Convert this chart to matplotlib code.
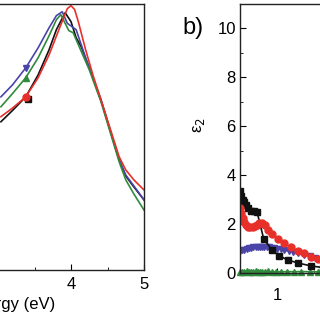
import matplotlib

matplotlib.use("Agg")
import matplotlib.pyplot as plt
from matplotlib.ticker import MultipleLocator

plt.rcParams["font.family"] = ["Liberation Sans", "DejaVu Sans"]

# panel a (left, only its right part is visible)
a_black_x = [3.04, 3.2, 3.38, 3.55, 3.7, 3.8, 3.92, 4.0, 4.07, 4.14, 4.25, 4.41, 4.66, 4.75, 4.86, 5.0]
a_black_y = [6.13, 6.6, 7.16, 8.07, 9.11, 9.94, 10.64, 10.27, 9.61, 9.23, 8.36, 7.04, 4.55, 3.89, 3.44, 2.90]
a_blue_x = [3.04, 3.2, 3.38, 3.55, 3.7, 3.8, 3.88, 3.95, 4.07, 4.2, 4.41, 4.66, 4.75, 4.86, 5.0]
a_blue_y = [7.16, 7.66, 8.36, 9.19, 10.02, 10.52, 10.68, 10.2, 9.94, 8.78, 7.04, 4.55, 3.93, 3.48, 2.90]
a_green_x = [3.04, 3.2, 3.38, 3.55, 3.7, 3.8, 3.86, 3.93, 3.97, 4.03, 4.1, 4.25, 4.41, 4.66, 4.75, 4.86, 5.0]
a_green_y = [6.75, 7.3, 7.95, 8.78, 9.69, 10.35, 10.56, 10.14, 9.90, 9.81, 9.32, 8.28, 6.96, 4.47, 3.73, 3.15, 2.48]
a_red_x = [3.04, 3.2, 3.38, 3.55, 3.7, 3.85, 3.95, 4.0, 4.05, 4.1, 4.2, 4.3, 4.41, 4.66, 4.75, 4.86, 5.0]
a_red_y = [6.34, 6.7, 7.16, 7.95, 8.90, 10.06, 10.81, 10.93, 10.77, 10.27, 9.11, 8.07, 7.04, 4.68, 4.14, 3.73, 3.31]
a_marker_x = 3.38
a_ticks = [1, 2, 3, 4, 5]
a_ticklabels = ["", "", "", "4", "5"]

# panel b: epsilon_2
b_black_x = [0.5, 0.52, 0.54, 0.56, 0.58, 0.61, 0.65, 0.69, 0.73, 0.82, 0.93, 1.03, 1.15, 1.28, 1.46, 1.62]
b_black_y = [3.35, 3.15, 3.0, 2.9, 2.8, 2.65, 2.55, 2.55, 2.5, 1.4, 0.95, 0.7, 0.53, 0.41, 0.29, 0.22]
b_red_x = [0.5, 0.52, 0.54, 0.56, 0.58, 0.61, 0.64, 0.67, 0.7, 0.73, 0.76, 0.8, 0.84, 0.88, 0.93,
           1.01, 1.09, 1.19, 1.28, 1.36, 1.46, 1.55, 1.65]
b_red_y = [2.65, 2.45, 2.25, 2.1, 1.98, 1.9, 1.87, 1.88, 1.92, 1.98, 2.03, 2.05, 1.95, 1.75, 1.6,
           1.38, 1.22, 1.06, 0.9, 0.8, 0.66, 0.58, 0.5]
b_blue_x = [0.5, 0.53, 0.56, 0.59, 0.62, 0.65, 0.68, 0.71, 0.74, 0.77, 0.8, 0.83, 0.86, 0.89, 0.92,
            0.96, 1.0, 1.05, 1.1, 1.16, 1.22, 1.29, 1.36, 1.44, 1.52, 1.6]
b_blue_y = [0.9, 0.93, 0.96, 0.99, 1.02, 1.04, 1.06, 1.07, 1.08, 1.08, 1.08, 1.07, 1.06, 1.05, 1.03,
            1.01, 1.0, 0.97, 0.93, 0.89, 0.85, 0.8, 0.75, 0.68, 0.6, 0.52]
b_green_x = [0.5, 0.53, 0.56, 0.59, 0.62, 0.65, 0.68, 0.71, 0.74, 0.77, 0.8, 0.84, 0.88, 0.93,
             0.99, 1.06, 1.14, 1.23, 1.33, 1.44, 1.56, 1.68]
b_green_y = [0.05, 0.06, 0.05, 0.07, 0.06, 0.05, 0.06, 0.07, 0.05, 0.06, 0.05, 0.06, 0.07, 0.05,
             0.06, 0.05, 0.06, 0.05, 0.06, 0.05, 0.05, 0.05]
b_xticks = [1, 2, 3, 4, 5]
b_xticklabels = ["1", "", "", "", ""]

BLACK = "#111111"
RED = "#e8302a"
BLUE = "#4a44a8"
GREEN = "#2f8a3c"

fig = plt.figure(figsize=(3.2, 3.2), dpi=100)
W = H = 320.0

# left panel: right spine at x=144 px, xlim 0.5..5
ax1 = fig.add_axes([(144 - 4.5 * 73) / W, 1 - 270 / H, 4.5 * 73 / W, 266 / H])
ax1.plot(a_black_x, a_black_y, color=BLACK, lw=1.2)
ax1.plot(a_blue_x, a_blue_y, color=BLUE, lw=1.2)
ax1.plot(a_green_x, a_green_y, color=GREEN, lw=1.2)
ax1.plot(a_red_x, a_red_y, color=RED, lw=1.2)
ax1.plot([a_marker_x + 0.03], [7.06], "s", color=BLACK, ms=4.5)
ax1.plot([a_marker_x], [7.16], "o", color=RED, ms=5)
ax1.plot([a_marker_x], [8.36], "v", color=BLUE, ms=5)
ax1.plot([a_marker_x], [7.95], "^", color=GREEN, ms=5)
ax1.set_xlim(0.5, 5)
ax1.set_ylim(0, 11)
ax1.set_xticks(a_ticks, a_ticklabels)
ax1.xaxis.set_minor_locator(MultipleLocator(0.5))
ax1.tick_params(axis="x", which="both", direction="in", labelsize=12, pad=5)
ax1.tick_params(axis="x", which="major", length=4)
ax1.tick_params(axis="x", which="minor", length=2.5)
ax1.set_yticks([])
fig.text(55 / W, 1 - 304 / H, "Energy (eV)", ha="right", va="center", fontsize=12)

# right panel
ax2 = fig.add_axes([240 / W, 1 - 273 / H, 4.5 * 74 / W, 269 / H])
ax2.plot(b_green_x, b_green_y, "-^", color=GREEN, lw=1.2, ms=4, clip_on=False)
ax2.plot(b_blue_x, b_blue_y, "-v", color=BLUE, lw=1.2, ms=4.5)
ax2.plot(b_black_x, b_black_y, "-s", color=BLACK, lw=1.2, ms=4.5)
ax2.plot(b_red_x, b_red_y, "-o", color=RED, lw=1.2, ms=5)
ax2.set_xlim(0.5, 5)
ax2.set_ylim(0, 11)
ax2.yaxis.set_major_locator(MultipleLocator(2))
ax2.yaxis.set_minor_locator(MultipleLocator(1))
ax2.set_xticks(b_xticks, b_xticklabels)
ax2.xaxis.set_minor_locator(MultipleLocator(0.5))
ax2.tick_params(which="both", direction="in", labelsize=12)
ax2.tick_params(axis="y", which="major", length=4, pad=3)
ax2.tick_params(axis="y", which="minor", length=2.5)
ax2.tick_params(axis="x", pad=11)
ax2.set_ylabel("ε$_2$", fontsize=12)
ax2.yaxis.set_label_coords(207 / W, 1 - 125 / H, transform=fig.transFigure)
fig.text(193 / W, 1 - 28 / H, "b)", ha="center", va="center", fontsize=17)

for ax in (ax1, ax2):
    for s in ax.spines.values():
        s.set_linewidth(1.0)
        s.set_color("#222222")

fig.savefig("out.png", dpi=100)
